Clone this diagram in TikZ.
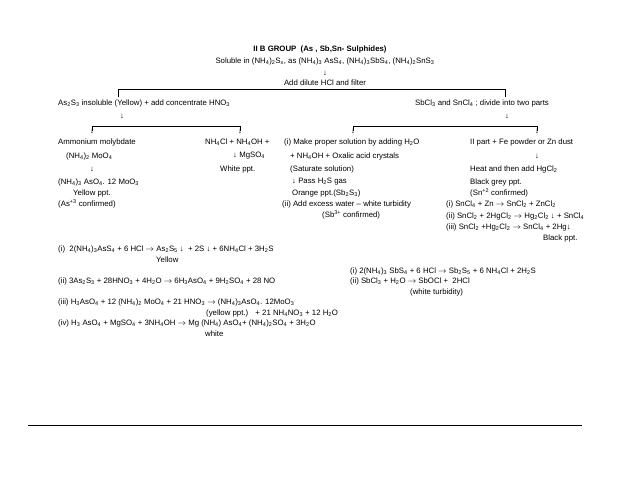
\documentclass[tikz,border=0pt]{standalone}
\usepackage{fontspec}
\setmainfont{Liberation Sans}
\newcommand{\sbx}[1]{\textsubscript{#1}}
\newcommand{\spx}[1]{\textsuperscript{#1}}
\begin{document}
\begin{tikzpicture}[x=1pt,y=-1pt,
 t/.style={anchor=west,inner sep=0pt,font=\fontsize{7.8}{9}\selectfont},
 c/.style={anchor=center,inner sep=0pt,font=\fontsize{7.8}{9}\selectfont},
 br/.style={line width=0.5pt}]
\useasboundingbox[fill=white] (0,0) rectangle (638,493);
\node[c,font=\fontsize{7.8}{9}\selectfont\bfseries] (title) at (320,49) {II B GROUP \ (As , Sb,Sn- Sulphides)};
\node[c] (sol) at (325,61) {Soluble in (NH\sbx4)\sbx2S\sbx x, as (NH\sbx4)\sbx3 AsS\sbx4, (NH\sbx4)\sbx3SbS\sbx4, (NH\sbx4)\sbx2SnS\sbx3};
\node[c] (a0) at (325,73) {↓};
\node[c] (hcl) at (325,83) {Add dilute HCl and filter};
\coordinate (bl) at (118,97); \coordinate (br) at (505,97);
\draw[br] (bl) -- (118,89) -- (505,89) -- (br);
\node[t] (as2s3) at (58,103) {As\sbx2S\sbx3 insoluble (Yellow) + add concentrate HNO\sbx3};
\node[t] (sbcl) at (415,103) {SbCl\sbx3 and SnCl\sbx4 ; divide into two parts};
\node[c] (a1) at (122,116) {↓};
\node[c] (a2) at (507,116) {↓};
\draw[br] (92,131) -- (92,126) -- (240,126) -- (240,131);
\draw[br] (353,131) -- (353,126) -- (537,126) -- (537,131);
\node[c] (a3) at (92,131) {↓}; \node[c] (a4) at (240,131) {↓};
\node[c] (a5) at (353,131) {↓}; \node[c] (a6) at (537,131) {↓};
\node[t] (am) at (58,142) {Ammonium molybdate};
\node[t] (nh4cl) at (205,142) {NH\sbx4Cl + NH\sbx4OH +};
\node[t] (mk) at (284,142) {(i) Make proper solution by adding H\sbx2O};
\node[t] (fe) at (470,142) {II part + Fe powder or Zn dust};
\node[t] (moo4) at (66,156) {(NH\sbx4)\sbx2 MoO\sbx4};
\node[t] (mg) at (233,156) {↓ MgSO\sbx4};
\node[t] (ox) at (290,156) {+ NH\sbx4OH + Oxalic acid crystals};
\node[c] (a7) at (537,156) {↓};
\node[c] (a8) at (92,169) {↓};
\node[t] (wp) at (220,169) {White ppt.};
\node[t] (sat) at (290,169) {(Saturate solution)};
\node[t] (heat) at (470,169) {Heat and then add HgCl\sbx2};
\node[t] (ams) at (58,182) {(NH\sbx4)\sbx3 AsO\sbx4. 12 MoO\sbx3};
\node[t] (h2s) at (292,182) {↓ Pass H\sbx2S gas};
\node[t] (bg) at (470,182) {Black grey ppt.};
\node[t] (yp) at (73,193) {Yellow ppt.};
\node[t] (op) at (292,193) {Orange ppt.(Sb\sbx2S\sbx3)};
\node[t] (snc) at (470,193) {(Sn\spx{+2} confirmed)};
\node[t] (asc) at (58,204) {(As\spx{+3} confirmed)};
\node[t] (ew) at (282,204) {(ii) Add excess water -- white turbidity};
\node[t] (r1) at (446,204) {(i) SnCl\sbx4 + Zn $\rightarrow$ SnCl\sbx2 + ZnCl\sbx2};
\node[t] (sbc) at (322,215) {(Sb\spx{3+} confirmed)};
\node[t] (r2) at (446,216) {(ii) SnCl\sbx2 + 2HgCl\sbx2 $\rightarrow$ Hg\sbx2Cl\sbx2 ↓ + SnCl\sbx4};
\node[t] (r3) at (446,227) {(iii) SnCl\sbx2 +Hg\sbx2Cl\sbx2 $\rightarrow$ SnCl\sbx4 + 2Hg↓};
\node[t] (bp) at (543,238) {Black ppt.};
\node[t] (e1) at (58,249) {(i) \ 2(NH\sbx4)\sbx3AsS\sbx4 + 6 HCl $\rightarrow$ As\sbx2S\sbx5 ↓ \ + 2S ↓ + 6NH\sbx4Cl + 3H\sbx2S};
\node[t] (yel) at (156,260) {Yellow};
\node[t] (f1) at (350,271) {(i) 2(NH\sbx4)\sbx3 SbS\sbx4 + 6 HCl $\rightarrow$ Sb\sbx2S\sbx5 + 6 NH\sbx4Cl + 2H\sbx2S};
\node[t] (e2) at (58,281) {(ii) 3As\sbx2S\sbx3 + 28HNO\sbx3 + 4H\sbx2O $\rightarrow$ 6H\sbx3AsO\sbx4 + 9H\sbx2SO\sbx4 + 28 NO};
\node[t] (f2) at (350,281) {(ii) SbCl\sbx3 + H\sbx2O $\rightarrow$ SbOCl + \ 2HCl};
\node[t] (wt) at (410,292) {(white turbidity)};
\node[t] (e3) at (58,302) {(iii) H\sbx3AsO\sbx4 + 12 (NH\sbx4)\sbx2 MoO\sbx4 + 21 HNO\sbx3 $\rightarrow$ (NH\sbx4)\sbx3AsO\sbx4. 12MoO\sbx3};
\node[t] (e3b) at (206,313) {(yellow ppt.) \ \ + 21 NH\sbx4NO\sbx3 + 12 H\sbx2O};
\node[t] (e4) at (58,323) {(iv) H\sbx3 AsO\sbx4 + MgSO\sbx4 + 3NH\sbx4OH $\rightarrow$ Mg (NH\sbx4) AsO\sbx4+ (NH\sbx4)\sbx2SO\sbx4 + 3H\sbx2O};
\node[t] (wh) at (205,334) {white};
\coordinate (L1) at (28,425); \coordinate (L2) at (582,425);
\draw[line width=0.7pt] (L1) -- (L2);
\end{tikzpicture}
\end{document}
